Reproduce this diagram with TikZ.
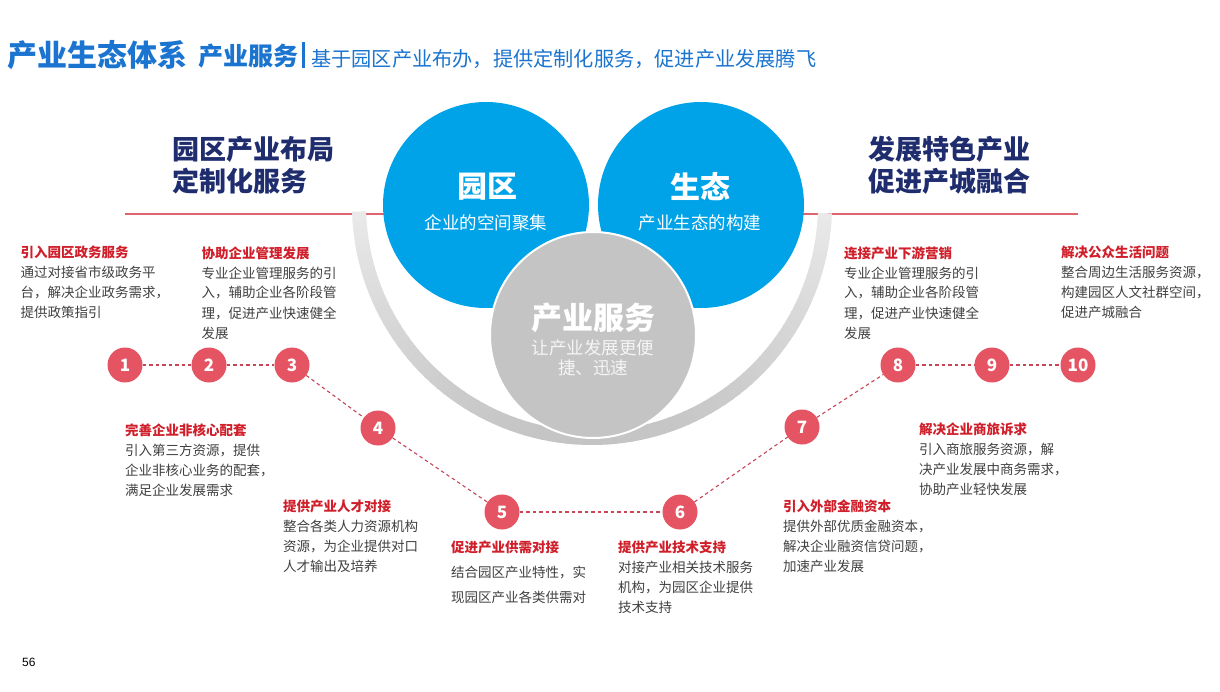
\documentclass[tikz,border=0pt]{standalone}
\usepackage{fontspec}
\setmainfont{Noto Sans CJK SC}
\newfontfamily\latinfont{Liberation Sans}
\definecolor{tblue}{HTML}{1B75D0}
\definecolor{cblue}{HTML}{00A3E8}
\definecolor{cgray}{HTML}{C4C4C4}
\definecolor{navy}{HTML}{1F2D6E}
\definecolor{rtitle}{HTML}{D01F2A}
\definecolor{bodytext}{HTML}{404040}
\definecolor{numred}{HTML}{E55462}
\definecolor{dashred}{HTML}{C84558}
\definecolor{rline}{HTML}{E0646E}
\begin{document}
\begin{tikzpicture}[x=1pt,y=-1pt,
  num/.style={circle, fill=numred, text=white, font=\bfseries\fontsize{17}{17}\selectfont, minimum size=35pt, inner sep=0pt},
  conn/.style={draw=dashred, dash pattern=on 3.5pt off 3pt, line width=1.1pt},
  blk/.style={anchor=base west, align=left, inner sep=0pt, font=\fontsize{13.5}{20}\selectfont, text=bodytext},
  blkwide/.style={blk, font=\fontsize{13.5}{25}\selectfont},
  head/.style={anchor=base west, align=left, inner sep=0pt, font=\bfseries\fontsize{27}{32}\selectfont, text=navy},
  bigc/.style={circle, minimum size=206pt, inner sep=0pt},
  ctitle/.style={text=white, inner sep=0pt, font=\bfseries\fontsize{30}{30}\selectfont},
  csub/.style={text=white, inner sep=0pt, font=\fontsize{17.5}{20}\selectfont, align=center}
]
\useasboundingbox (0,0) rectangle (1220,692);
\fill[white] (0,0) rectangle (1220,692);

% title
\node[anchor=base west, inner sep=0pt, font=\bfseries\fontsize{30}{30}\selectfont, text=tblue] (t1) at (7,67) {产业生态体系};
\node[anchor=base west, inner sep=0pt, font=\bfseries\fontsize{25}{25}\selectfont, text=tblue] (t2) at (198,66) {产业服务};
\fill[tblue] (302,42) rectangle (305,68);
\node[anchor=base west, inner sep=0pt, font=\fontsize{20.2}{20.2}\selectfont, text=tblue] (t3) at (311,67) {基于园区产业布办，提供定制化服务，促进产业发展腾飞};

% red lines
\draw[rline, line width=1.5pt] (125,214) -- (400,214);
\draw[rline, line width=1.5pt] (790,214) -- (1078,214);

% gray ring with gradient
\foreach \a in {2,4,...,176} {
  \pgfmathsetmacro\b{\a+2.4}
  \pgfmathsetmacro\p{8+15*sin(\a+1)}
  \draw[line width=14pt, color=black!\p] plot[domain=\a:\b, samples=4] ({592+233*cos(\x)},{205+233*sin(\x)});
}

% big circles
\node[bigc, fill=cblue] (park) at (486,205) {};
\node[bigc, fill=cblue] (eco) at (701,205) {};
\node[bigc, fill=cgray, draw=white, line width=2pt] (svc) at (593,335) {};

\node[ctitle] (parkT) at (487,187) {园区};
\node[csub] (parkS) at (486,223) {企业的空间聚集};
\node[ctitle] (ecoT) at (700,187) {生态};
\node[csub] (ecoS) at (700,223) {产业生态的构建};
\node[ctitle, font=\bfseries\fontsize{31}{31}\selectfont] (svcT) at (593,318) {产业服务};
\node[csub, text=white!92!gray, font=\fontsize{17.5}{20}\selectfont] (svcS) at (593,358) {让产业发展更便\\捷、迅速};

% headings (anchor = baseline of last line)
\node[head] (hl) at (172,192) {园区产业布局\\定制化服务};
\node[head] (hr) at (868,192) {发展特色产业\\促进产城融合};

% numbered circles
\node[num] (n1) at (125,365) {1};
\node[num] (n2) at (209,365) {2};
\node[num] (n3) at (292,365) {3};
\node[num] (n4) at (378,428) {4};
\node[num] (n5) at (502,512) {5};
\node[num] (n6) at (680,512) {6};
\node[num] (n7) at (802,427) {7};
\node[num] (n8) at (898,365) {8};
\node[num] (n9) at (992,365) {9};
\node[num] (n10) at (1078,365) {10};

\draw[conn] (n1) -- (n2);
\draw[conn] (n2) -- (n3);
\draw[conn] (n3) -- (n4);
\draw[conn] (n4) -- (n5);
\draw[conn] (n5) -- (n6);
\draw[conn] (n6) -- (n7);
\draw[conn] (n7) -- (n8);
\draw[conn] (n8) -- (n9);
\draw[conn] (n9) -- (n10);

% text blocks (anchor = baseline of last line)
\node[blk] (b1) at (20.5,318) {{\color{rtitle}\bfseries 引入园区政务服务}\\通过对接省市级政务平\\台，解决企业政务需求，\\提供政策指引};
\node[blk] (b2) at (201.5,338) {{\color{rtitle}\bfseries 协助企业管理发展}\\专业企业管理服务的引\\入，辅助企业各阶段管\\理，促进产业快速健全\\发展};
\node[blk] (b4) at (125,495) {{\color{rtitle}\bfseries 完善企业非核心配套}\\引入第三方资源，提供\\企业非核心业务的配套，\\满足企业发展需求};
\node[blk] (b3) at (283,571) {{\color{rtitle}\bfseries 提供产业人才对接}\\整合各类人力资源机构\\资源，为企业提供对口\\人才输出及培养};
\node[blkwide] (b5) at (451,602) {{\color{rtitle}\bfseries 促进产业供需对接}\\结合园区产业特性，实\\现园区产业各类供需对};
\node[blk] (b6) at (618,612) {{\color{rtitle}\bfseries 提供产业技术支持}\\对接产业相关技术服务\\机构，为园区企业提供\\技术支持};
\node[blk] (b7) at (783,571) {{\color{rtitle}\bfseries 引入外部金融资本}\\提供外部优质金融资本，\\解决企业融资信贷问题，\\加速产业发展};
\node[blk] (bt) at (919,494) {{\color{rtitle}\bfseries 解决企业商旅诉求}\\引入商旅服务资源，解\\决产业发展中商务需求，\\协助产业轻快发展};
\node[blk] (b8) at (844,338) {{\color{rtitle}\bfseries 连接产业下游营销}\\专业企业管理服务的引\\入，辅助企业各阶段管\\理，促进产业快速健全\\发展};
\node[blk] (b10) at (1061,318) {{\color{rtitle}\bfseries 解决公众生活问题}\\整合周边生活服务资源，\\构建园区人文社群空间，\\促进产城融合};

% page number
\node[anchor=base west, inner sep=0pt, font=\latinfont\fontsize{12}{12}\selectfont] (pg) at (22,666) {56};
\end{tikzpicture}
\end{document}
